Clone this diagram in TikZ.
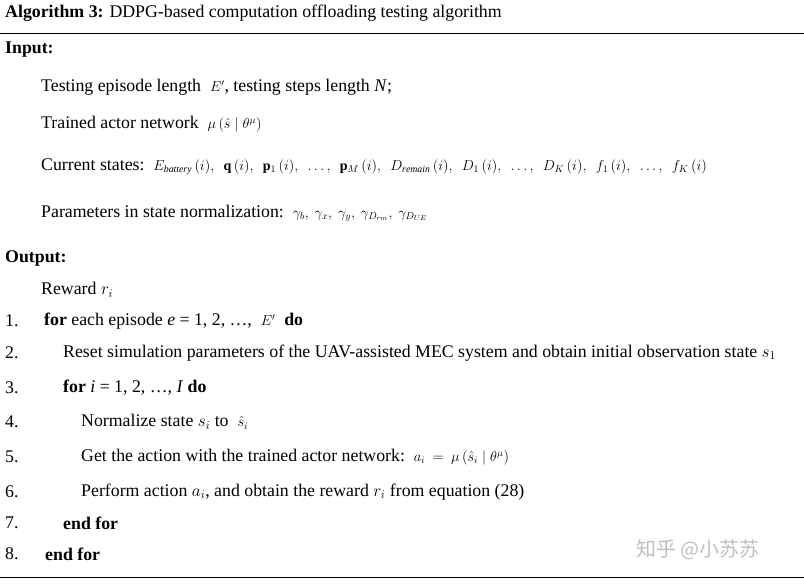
\documentclass[tikz,border=0pt]{standalone}
\usepackage{amsmath}
\usepackage{fontspec}
\setmainfont{Liberation Serif}
\newfontfamily\cjk{Noto Sans CJK SC}
\newcommand{\mth}[1]{{\fontsize{14}{16}\selectfont$#1$}}
\newcommand{\mtb}[1]{{\fontsize{17.8}{20}\selectfont$#1$}}
\begin{document}
\begin{tikzpicture}[x=1pt,y=-1pt,
  t/.style={anchor=west,inner sep=0pt,font=\fontsize{17.8}{20}\selectfont}]
\useasboundingbox (0,0) rectangle (804,584);
\draw[line width=1pt] (0,33) -- (804,33);
\draw[line width=1pt] (0,577) -- (804,577);
\node[t] (title) at (5,13) {\textbf{Algorithm 3:} DDPG-based computation offloading testing algorithm};
\node[t] (in) at (5,50) {\textbf{Input:}};
\node[t] (l1) at (41,87) {Testing episode length \ \mth{E'}, testing steps length \textit{N};};
\node[t] (l2) at (41,124) {Trained actor network \ \mth{\mu\,(\hat{s}\mid\theta^{\mu})}};
\node[t] (l3) at (41,167) {Current states:\ \ \mth{E_{\mathit{battery}}\,(i),\ \ \mathbf{q}\,(i),\ \ \mathbf{p}_1\,(i),\ \ \ldots,\ \ \mathbf{p}_M\,(i),\ \ D_{\mathit{remain}}\,(i),\ \ D_1\,(i),\ \ \ldots,\ \ D_K\,(i),\ \ f_1\,(i),\ \ \ldots,\ \ f_K\,(i)}};
\node[t] (l4) at (41,213) {Parameters in state normalization:\ \ \mth{\gamma_b,\ \gamma_x,\ \gamma_y,\ \gamma_{D_{rm}},\ \gamma_{D_{UE}}}};
\node[t] (out) at (5,258) {\textbf{Output:}};
\node[t] (rw) at (41,290) {Reward \mtb{r_i}};
\foreach \n/\y in {1/321,2/353,3/388,4/422,5/457,6/492,7/523,8/554}
  \node[t] (n\n) at (5,\y) {\n.};
\node[t] (s1) at (44,321) {\textbf{for} each episode \textit{e} = 1, 2, \ldots, \ \mth{E'} \ \textbf{do}};
\node[t] (s2) at (63,353) {Reset simulation parameters of the UAV-assisted MEC system and obtain initial observation state \mtb{s_1}};
\node[t] (s3) at (63,388) {\textbf{for} \textit{i} = 1, 2, \ldots, \textit{I} \textbf{do}};
\node[t] (s4) at (81,422) {Normalize state \mtb{s_i} to \ \mth{\hat{s}_i}};
\node[t] (s5) at (81,457) {Get the action with the trained actor network:\ \ \mth{a_i\ =\ \mu\,(\hat{s}_i\mid\theta^{\mu})}};
\node[t] (s6) at (81,492) {Perform action \mtb{a_i}, and obtain the reward \mtb{r_i} from equation (28)};
\node[t] (s7) at (63,523) {\textbf{end for}};
\node[t] (s8) at (45,554) {\textbf{end for}};
\node[anchor=west,inner sep=0pt,text=black!25,font=\cjk\fontsize{20}{24}\selectfont] (wm) at (636,550) {知乎 @小苏苏};
\end{tikzpicture}
\end{document}
